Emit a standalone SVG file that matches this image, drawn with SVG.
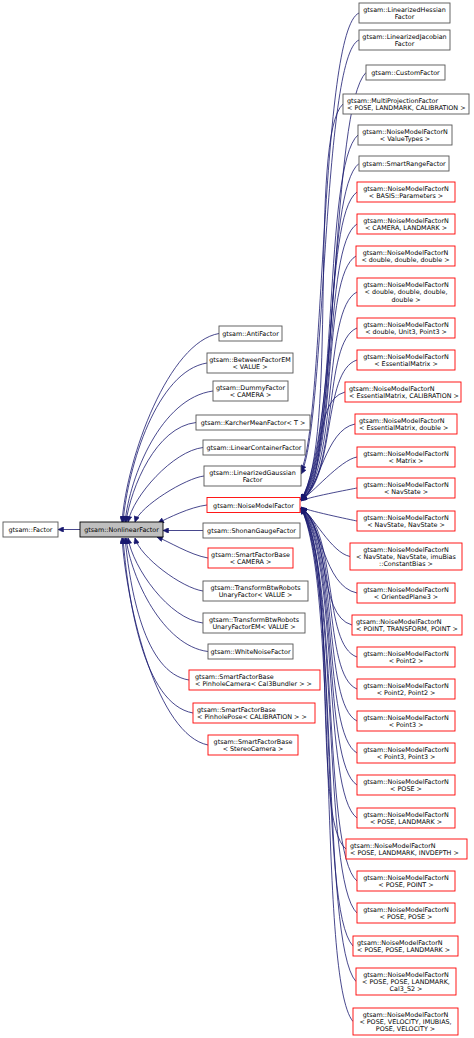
<svg xmlns="http://www.w3.org/2000/svg" width="474" height="1038" viewBox="0 0 474 1038">
<defs>
<marker id="arr" markerUnits="userSpaceOnUse" viewBox="0 0 10 10" markerWidth="7" markerHeight="5.5" refX="10" refY="5" orient="auto">
<path d="M0,0 L10,5 L0,10 z" fill="#191970" stroke="#191970"/>
</marker>
</defs>
<style>
rect{stroke-width:0.9}
.n{fill:#fff;stroke:#555}
.r{fill:#fff;stroke:#f00}
.g{fill:#bfbfbf;stroke:#000}
text{font-family:"DejaVu Sans","Liberation Sans",sans-serif;font-size:6.4px;fill:#000}
.c{text-anchor:middle}
#edges path{fill:none;stroke:#191970;stroke-width:0.8;marker-end:url(#arr)}
</style>
<rect width="474" height="1038" fill="#fff"/>
<g id="edges">
<path d="M80,529.5 L58,529.5"/>
<path d="M219,333.5 C169,342 127,456 122,522"/>
<path d="M207,363 C157,371 128,466 123,522"/>
<path d="M213,391 C161,398 130,476 125,522"/>
<path d="M196,422.5 C156,427 131,487 126,522"/>
<path d="M203,447.5 C173,451 133,496 128,522"/>
<path d="M204,476 C186,478 140,506 135,522"/>
<path d="M207,505 C190,507 168,518 158,523"/>
<path d="M203,530.5 L163,530.5"/>
<path d="M208,558 C190,555 168,541 157,537"/>
<path d="M203,591 C182,588 140,557 135,538"/>
<path d="M203,623 C169,619 133,568 128,538"/>
<path d="M208,651.5 C163,646 131,578 126,538"/>
<path d="M189,680 C144,673 130,588 125,538"/>
<path d="M193,713 C143,704 128,599 123,538"/>
<path d="M208,745 C158,735 127,610 122,538"/>
<path d="M359,13 C320,30 325,420 301,471"/>
<path d="M359,40 C322,55 326,425 301,474"/>
<path d="M366,72.5 C331,107 339,436 301,500"/>
<path d="M343,104 C308,136 339,441 301,500"/>
<path d="M358,135 C323,165 339,445 301,500"/>
<path d="M359,163.5 C324,190 339,449 301,500"/>
<path d="M357,192 C322,217 339,454 301,500"/>
<path d="M357,224 C322,246 339,459 301,500"/>
<path d="M356,256 C321,276 339,463 301,500"/>
<path d="M357,292 C322,309 339,469 301,500"/>
<path d="M357,328 C322,342 339,474 301,500"/>
<path d="M357,360 C322,371 336,479 301,500"/>
<path d="M345,392 C310,401 328,484 301,500"/>
<path d="M355,424 C325,430 320,489 301,500"/>
<path d="M357,457 C340,460 312,494 301,500"/>
<path d="M357,488 C352,489 304,498 301,501"/>
<path d="M357,521 C352,520 304,510 301,507"/>
<path d="M350,556.5 C331,552.6 313,515 301,508"/>
<path d="M357,593 C323,586 322,521 301,508"/>
<path d="M352,625 C317,616 330,526 301,508"/>
<path d="M357,657 C322,645 338,530 301,508"/>
<path d="M357,689 C322,675 339,535 301,508"/>
<path d="M357,721 C322,704 339,540 301,508"/>
<path d="M357,753 C322,733 339,545 301,508"/>
<path d="M357,785 C322,763 339,550 301,508"/>
<path d="M357,818 C322,793 339,554 301,508"/>
<path d="M346,849 C311,822 339,559 301,508"/>
<path d="M357,881 C322,852 339,564 301,508"/>
<path d="M357,913 C322,881 339,569 301,508"/>
<path d="M353,946 C318,910 339,574 301,508"/>
<path d="M356,981.5 C321,944 339,579 301,508"/>
<path d="M353,1021.5 C318,980 339,585 301,508"/>
</g>
<g id="n_factor"><rect class="n" x="3" y="522" width="55" height="15"/><text class="c" x="30.5" y="532.2">gtsam::Factor</text></g>
<g id="n_nonlinear"><rect class="g" x="80" y="522" width="83" height="15"/><text class="c" x="121.5" y="532.2">gtsam::NonlinearFactor</text></g>
<g id="n_anti"><rect class="n" x="219" y="326" width="63" height="15"/><text class="c" x="250.5" y="336.2">gtsam::AntiFactor</text></g>
<g id="n_betweenEM"><rect class="n" x="207" y="353" width="86" height="20"/><text class="c" x="250" y="361.6">gtsam::BetweenFactorEM<tspan x="250" dy="7.3">&lt; VALUE &gt;</tspan></text></g>
<g id="n_dummy"><rect class="n" x="213" y="381" width="75" height="20"/><text class="c" x="250.5" y="389.6">gtsam::DummyFactor<tspan x="250.5" dy="7.3">&lt; CAMERA &gt;</tspan></text></g>
<g id="n_karcher"><rect class="n" x="196" y="415" width="114" height="15"/><text class="c" x="253" y="425.2">gtsam::KarcherMeanFactor&lt; T &gt;</text></g>
<g id="n_lincont"><rect class="n" x="203" y="440" width="102" height="15"/><text class="c" x="254" y="450.2">gtsam::LinearContainerFactor</text></g>
<g id="n_linGauss"><rect class="n" x="204" y="466" width="97" height="20"/><text class="c" x="252.5" y="474.6">gtsam::LinearizedGaussian<tspan x="252.5" dy="7.3">Factor</tspan></text></g>
<g id="n_nmf"><rect class="r" x="207" y="497.5" width="93" height="15"/><text class="c" x="253.5" y="507.7">gtsam::NoiseModelFactor</text></g>
<g id="n_shonan"><rect class="n" x="203" y="523" width="97" height="15"/><text class="c" x="251.5" y="533.2">gtsam::ShonanGaugeFactor</text></g>
<g id="n_sfbCam"><rect class="r" x="208" y="548" width="85" height="20"/><text class="c" x="250.5" y="556.6">gtsam::SmartFactorBase<tspan x="250.5" dy="7.3">&lt; CAMERA &gt;</tspan></text></g>
<g id="n_tbr"><rect class="n" x="203" y="581" width="105" height="20"/><text class="c" x="255.5" y="589.6">gtsam::TransformBtwRobots<tspan x="255.5" dy="7.3">UnaryFactor&lt; VALUE &gt;</tspan></text></g>
<g id="n_tbrEM"><rect class="n" x="203" y="613" width="102" height="20"/><text class="c" x="254" y="621.6">gtsam::TransformBtwRobots<tspan x="254" dy="7.3">UnaryFactorEM&lt; VALUE &gt;</tspan></text></g>
<g id="n_white"><rect class="n" x="208" y="644" width="85" height="15"/><text class="c" x="250.5" y="654.2">gtsam::WhiteNoiseFactor</text></g>
<g id="n_sfbPC"><rect class="r" x="189" y="670" width="131" height="20"/><text x="195" y="678.6">gtsam::SmartFactorBase<tspan x="195" dy="7.3">&lt; PinholeCamera&lt; Cal3Bundler &gt; &gt;</tspan></text></g>
<g id="n_sfbPP"><rect class="r" x="193" y="703" width="122" height="20"/><text x="197" y="711.6">gtsam::SmartFactorBase<tspan x="197" dy="7.3">&lt; PinholePose&lt; CALIBRATION &gt; &gt;</tspan></text></g>
<g id="n_sfbStereo"><rect class="r" x="208" y="735" width="90" height="20"/><text class="c" x="253" y="743.6">gtsam::SmartFactorBase<tspan x="253" dy="7.3">&lt; StereoCamera &gt;</tspan></text></g>
<g id="n_linHess"><rect class="n" x="359" y="3" width="91" height="20"/><text class="c" x="404.5" y="11.6">gtsam::LinearizedHessian<tspan x="404.5" dy="7.3">Factor</tspan></text></g>
<g id="n_linJac"><rect class="n" x="359" y="30" width="91" height="20"/><text class="c" x="404.5" y="38.6">gtsam::LinearizedJacobian<tspan x="404.5" dy="7.3">Factor</tspan></text></g>
<g id="n_custom"><rect class="n" x="366" y="65" width="79" height="15"/><text class="c" x="405.5" y="75.2">gtsam::CustomFactor</text></g>
<g id="n_multiproj"><rect class="n" x="343" y="94" width="126" height="20"/><text x="347" y="102.6">gtsam::MultiProjectionFactor<tspan x="347" dy="7.3">&lt; POSE, LANDMARK, CALIBRATION &gt;</tspan></text></g>
<g id="n_valtypes"><rect class="n" x="358" y="125" width="94" height="20"/><text class="c" x="405" y="133.6">gtsam::NoiseModelFactorN<tspan x="405" dy="7.3">&lt; ValueTypes &gt;</tspan></text></g>
<g id="n_smartrange"><rect class="n" x="359" y="156" width="90" height="15"/><text class="c" x="404" y="166.2">gtsam::SmartRangeFactor</text></g>
<g id="n_basis"><rect class="r" x="357" y="182" width="98" height="20"/><text class="c" x="406" y="190.6">gtsam::NoiseModelFactorN<tspan x="406" dy="7.3">&lt; BASIS::Parameters &gt;</tspan></text></g>
<g id="n_camlm"><rect class="r" x="357" y="214" width="98" height="20"/><text class="c" x="406" y="222.6">gtsam::NoiseModelFactorN<tspan x="406" dy="7.3">&lt; CAMERA, LANDMARK &gt;</tspan></text></g>
<g id="n_ddd"><rect class="r" x="356" y="246" width="99" height="20"/><text class="c" x="405.5" y="254.6">gtsam::NoiseModelFactorN<tspan x="405.5" dy="7.3">&lt; double, double, double &gt;</tspan></text></g>
<g id="n_dddd"><rect class="r" x="357" y="278" width="98" height="28"/><text class="c" x="406" y="287">gtsam::NoiseModelFactorN<tspan x="406" dy="7.3">&lt; double, double, double,</tspan><tspan x="406" dy="7.3">double &gt;</tspan></text></g>
<g id="n_dup"><rect class="r" x="357" y="318" width="98" height="20"/><text class="c" x="406" y="326.6">gtsam::NoiseModelFactorN<tspan x="406" dy="7.3">&lt; double, Unit3, Point3 &gt;</tspan></text></g>
<g id="n_em"><rect class="r" x="357" y="350" width="98" height="20"/><text class="c" x="406" y="358.6">gtsam::NoiseModelFactorN<tspan x="406" dy="7.3">&lt; EssentialMatrix &gt;</tspan></text></g>
<g id="n_emcal"><rect class="r" x="345" y="382" width="116" height="20"/><text x="349" y="390.6">gtsam::NoiseModelFactorN<tspan x="349" dy="7.3">&lt; EssentialMatrix, CALIBRATION &gt;</tspan></text></g>
<g id="n_emd"><rect class="r" x="355" y="414" width="102" height="20"/><text x="359" y="422.6">gtsam::NoiseModelFactorN<tspan x="359" dy="7.3">&lt; EssentialMatrix, double &gt;</tspan></text></g>
<g id="n_matrix"><rect class="r" x="357" y="447" width="98" height="20"/><text class="c" x="406" y="455.6">gtsam::NoiseModelFactorN<tspan x="406" dy="7.3">&lt; Matrix &gt;</tspan></text></g>
<g id="n_nav"><rect class="r" x="357" y="478" width="98" height="20"/><text class="c" x="406" y="486.6">gtsam::NoiseModelFactorN<tspan x="406" dy="7.3">&lt; NavState &gt;</tspan></text></g>
<g id="n_navnav"><rect class="r" x="357" y="511" width="98" height="20"/><text class="c" x="406" y="519.6">gtsam::NoiseModelFactorN<tspan x="406" dy="7.3">&lt; NavState, NavState &gt;</tspan></text></g>
<g id="n_navimu"><rect class="r" x="350" y="543" width="112" height="27"/><text class="c" x="406" y="551.5">gtsam::NoiseModelFactorN<tspan x="406" dy="7.3">&lt; NavState, NavState, imuBias</tspan><tspan x="406" dy="7.3">::ConstantBias &gt;</tspan></text></g>
<g id="n_op3"><rect class="r" x="357" y="583" width="98" height="20"/><text class="c" x="406" y="591.6">gtsam::NoiseModelFactorN<tspan x="406" dy="7.3">&lt; OrientedPlane3 &gt;</tspan></text></g>
<g id="n_ptp"><rect class="r" x="352" y="615" width="110" height="20"/><text x="356" y="623.6">gtsam::NoiseModelFactorN<tspan x="356" dy="7.3">&lt; POINT, TRANSFORM, POINT &gt;</tspan></text></g>
<g id="n_p2"><rect class="r" x="357" y="647" width="98" height="20"/><text class="c" x="406" y="655.6">gtsam::NoiseModelFactorN<tspan x="406" dy="7.3">&lt; Point2 &gt;</tspan></text></g>
<g id="n_p2p2"><rect class="r" x="357" y="679" width="98" height="20"/><text class="c" x="406" y="687.6">gtsam::NoiseModelFactorN<tspan x="406" dy="7.3">&lt; Point2, Point2 &gt;</tspan></text></g>
<g id="n_p3"><rect class="r" x="357" y="711" width="98" height="20"/><text class="c" x="406" y="719.6">gtsam::NoiseModelFactorN<tspan x="406" dy="7.3">&lt; Point3 &gt;</tspan></text></g>
<g id="n_p3p3"><rect class="r" x="357" y="743" width="98" height="20"/><text class="c" x="406" y="751.6">gtsam::NoiseModelFactorN<tspan x="406" dy="7.3">&lt; Point3, Point3 &gt;</tspan></text></g>
<g id="n_pose"><rect class="r" x="357" y="775" width="98" height="20"/><text class="c" x="406" y="783.6">gtsam::NoiseModelFactorN<tspan x="406" dy="7.3">&lt; POSE &gt;</tspan></text></g>
<g id="n_poselm"><rect class="r" x="357" y="808" width="98" height="20"/><text class="c" x="406" y="816.6">gtsam::NoiseModelFactorN<tspan x="406" dy="7.3">&lt; POSE, LANDMARK &gt;</tspan></text></g>
<g id="n_pli"><rect class="r" x="346" y="839" width="121" height="20"/><text x="350" y="847.6">gtsam::NoiseModelFactorN<tspan x="350" dy="7.3">&lt; POSE, LANDMARK, INVDEPTH &gt;</tspan></text></g>
<g id="n_posepoint"><rect class="r" x="357" y="871" width="98" height="20"/><text class="c" x="406" y="879.6">gtsam::NoiseModelFactorN<tspan x="406" dy="7.3">&lt; POSE, POINT &gt;</tspan></text></g>
<g id="n_posepose"><rect class="r" x="357" y="903" width="98" height="20"/><text class="c" x="406" y="911.6">gtsam::NoiseModelFactorN<tspan x="406" dy="7.3">&lt; POSE, POSE &gt;</tspan></text></g>
<g id="n_ppl"><rect class="r" x="353" y="936" width="105" height="20"/><text x="357" y="944.6">gtsam::NoiseModelFactorN<tspan x="357" dy="7.3">&lt; POSE, POSE, LANDMARK &gt;</tspan></text></g>
<g id="n_pplc"><rect class="r" x="356" y="968" width="100" height="27"/><text class="c" x="406" y="976.5">gtsam::NoiseModelFactorN<tspan x="406" dy="7.3">&lt; POSE, POSE, LANDMARK,</tspan><tspan x="406" dy="7.3">Cal3_S2 &gt;</tspan></text></g>
<g id="n_pvipv"><rect class="r" x="353" y="1008" width="105" height="27"/><text class="c" x="405.5" y="1016.5">gtsam::NoiseModelFactorN<tspan x="405.5" dy="7.3">&lt; POSE, VELOCITY, IMUBIAS,</tspan><tspan x="405.5" dy="7.3">POSE, VELOCITY &gt;</tspan></text></g>
</svg>
